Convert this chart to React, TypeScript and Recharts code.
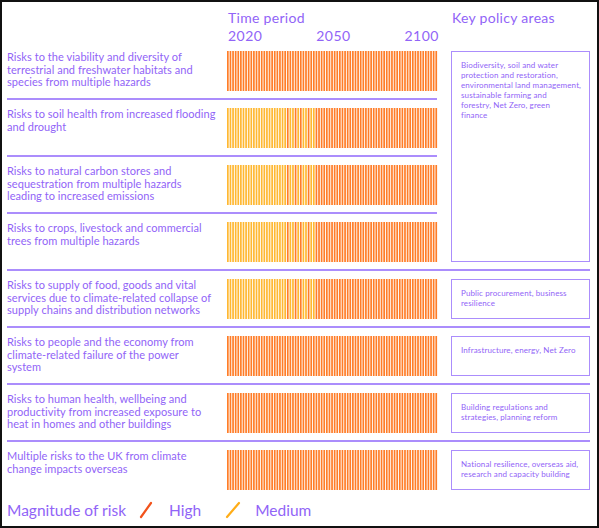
import { Bar, BarChart, Cell, XAxis, YAxis } from "recharts";

const START_YEAR = 2020;
const timeTicks = ["2020", "2050", "2100"];

const riskLabels = [
  ["Risks to the viability and diversity of", "terrestrial and freshwater habitats and", "species from multiple hazards"],
  ["Risks to soil health from increased flooding", "and drought"],
  ["Risks to natural carbon stores and", "sequestration from multiple hazards", "leading to increased emissions"],
  ["Risks to crops, livestock and commercial", "trees from multiple hazards"],
  ["Risks to supply of food, goods and vital", "services due to climate-related collapse of", "supply chains and distribution networks"],
  ["Risks to people and the economy from", "climate-related failure of the power", "system"],
  ["Risks to human health, wellbeing and", "productivity from increased exposure to", "heat in homes and other buildings"],
  ["Multiple risks to the UK from climate", "change impacts overseas"],
];

// one letter per year 2020..2100, H = high, M = medium
const habitatsRisk = "HHHHHHHHHH HHHHHHHHHH HHHHHHHHHH HHHHHHHHHH HHHHHHHHHH HHHHHHHHHH HHHHHHHHHH HHHHHHHHHH H";
const soilRisk = "MMMMMMMMMM MMMMMMMMMM MMMHMMHMHM MHMMHHHHHH HHHHHHHHHH HHHHHHHHHH HHHHHHHHHH HHHHHHHHHH H";
const carbonRisk = "MMMMMMMMMM MMMMMMMMMM MMMHMMHMHM MHMMHHHHHH HHHHHHHHHH HHHHHHHHHH HHHHHHHHHH HHHHHHHHHH H";
const cropsRisk = "MMMMMMMMMM MMMMMMMMMM MMMHMMHMHM MHMMHHHHHH HHHHHHHHHH HHHHHHHHHH HHHHHHHHHH HHHHHHHHHH H";
const supplyRisk = "MMMMMMMMMM MMMMMMMMMM MMMHMMHMHM MHMMHHHHHH HHHHHHHHHH HHHHHHHHHH HHHHHHHHHH HHHHHHHHHH H";
const powerRisk = "HHHHHHHHHH HHHHHHHHHH HHHHHHHHHH HHHHHHHHHH HHHHHHHHHH HHHHHHHHHH HHHHHHHHHH HHHHHHHHHH H";
const healthRisk = "HHHHHHHHHH HHHHHHHHHH HHHHHHHHHH HHHHHHHHHH HHHHHHHHHH HHHHHHHHHH HHHHHHHHHH HHHHHHHHHH H";
const overseasRisk = "HHHHHHHHHH HHHHHHHHHH HHHHHHHHHH HHHHHHHHHH HHHHHHHHHH HHHHHHHHHH HHHHHHHHHH HHHHHHHHHH H";

const rowRisks = [habitatsRisk, soilRisk, carbonRisk, cropsRisk, supplyRisk, powerRisk, healthRisk, overseasRisk];

// policy boxes: first row index, rows spanned, text lines
const policyFirstRow = [0, 4, 5, 6, 7];
const policyRowSpan = [4, 1, 1, 1, 1];
const policyTexts = [
  ["Biodiversity, soil and water", "protection and restoration,", "environmental land management,", "sustainable farming and", "forestry, Net Zero, green", "finance"],
  ["Public procurement, business", "resilience"],
  ["Infrastructure, energy, Net Zero"],
  ["Building regulations and", "strategies, planning reform"],
  ["National resilience, overseas aid,", "research and capacity building"],
];

const HIGH = "#ff7d28";
const MEDIUM = "#ffb832";
const TEXT = "#9164f7";
const LINE = "#ab8dfc";
const FONT = "Lato, 'Open Sans', sans-serif";

const ROW_TOP = 51;
const ROW_PITCH = 57;

function Stripes({ levels }: { levels: string }) {
  const data = levels.replace(/ /g, "").split("").map((lvl, i) => ({ year: START_YEAR + i, value: 1, level: lvl }));
  return (
    <BarChart width={211} height={40} data={data} margin={{ top: 0, right: 0, left: 0, bottom: 0 }}>
      <XAxis dataKey="year" hide />
      <YAxis hide domain={[0, 1]} />
      <Bar dataKey="value" barSize={1.7} isAnimationActive={false}>
        {data.map((d) => (
          <Cell key={d.year} fill={d.level === "H" ? HIGH : MEDIUM} />
        ))}
      </Bar>
    </BarChart>
  );
}

export default function App() {
  return (
    <div
      style={{
        position: "absolute",
        left: 0,
        top: 0,
        width: 599,
        height: 528,
        boxSizing: "border-box",
        border: "2px solid #111",
        background: "#fff",
        fontFamily: FONT,
        color: TEXT,
      }}
    >
      <div style={{ position: "absolute", left: 226, top: 7, fontSize: 14, letterSpacing: 0.3 }}>Time period</div>
      <div style={{ position: "absolute", left: 226, top: 25, width: 211, fontSize: 14, letterSpacing: 0.5, display: "flex", justifyContent: "space-between" }}>
        {timeTicks.map((t) => (
          <span key={t}>{t}</span>
        ))}
      </div>
      <div style={{ position: "absolute", left: 450, top: 7, fontSize: 14, letterSpacing: 0.3 }}>Key policy areas</div>

      {riskLabels.map((lines, i) => (
        <div key={i} style={{ position: "absolute", left: 5, top: ROW_TOP - 2 + i * ROW_PITCH, fontSize: 11, letterSpacing: 0.05, lineHeight: "12.5px" }}>
          {lines.map((l) => (
            <div key={l}>{l}</div>
          ))}
        </div>
      ))}

      {rowRisks.map((levels, i) => (
        <div key={i} style={{ position: "absolute", left: 225, top: ROW_TOP - 2 + i * ROW_PITCH }}>
          <Stripes levels={levels} />
        </div>
      ))}

      {[0, 1, 2, 3, 4, 5, 6].map((i) => (
        <div
          key={i}
          style={{
            position: "absolute",
            left: 5,
            top: ROW_TOP - 2 + 47 + i * ROW_PITCH,
            width: i < 3 ? 430 : 583,
            height: 2,
            background: LINE,
          }}
        />
      ))}

      {policyTexts.map((lines, k) => (
        <div
          key={k}
          style={{
            position: "absolute",
            left: 449,
            top: ROW_TOP - 2 + policyFirstRow[k] * ROW_PITCH,
            width: 139,
            height: (policyRowSpan[k] - 1) * ROW_PITCH + 40,
            boxSizing: "border-box",
            border: `1.5px solid ${LINE}`,
            padding: k === 0 ? "8px 9px" : "9px 9px",
            fontSize: 8,
            letterSpacing: 0.12,
            lineHeight: k === 0 ? "10px" : "9.5px",
          }}
        >
          {lines.map((l) => (
            <div key={l} style={{ whiteSpace: "nowrap" }}>{l}</div>
          ))}
        </div>
      ))}

      <div style={{ position: "absolute", left: 5, top: 499, fontSize: 15.5, display: "flex", alignItems: "center" }}>
        <span>Magnitude of risk</span>
        <svg width={14} height={18} style={{ marginLeft: 13 }}>
          <line x1={2} y1={16} x2={12} y2={2} stroke="#f2531b" strokeWidth={2.2} strokeLinecap="round" />
        </svg>
        <span style={{ marginLeft: 16 }}>High</span>
        <svg width={18} height={18} style={{ marginLeft: 24 }}>
          <line x1={2} y1={16} x2={14} y2={2} stroke="#ffad18" strokeWidth={2.2} strokeLinecap="round" />
        </svg>
        <span style={{ marginLeft: 12 }}>Medium</span>
      </div>
    </div>
  );
}
